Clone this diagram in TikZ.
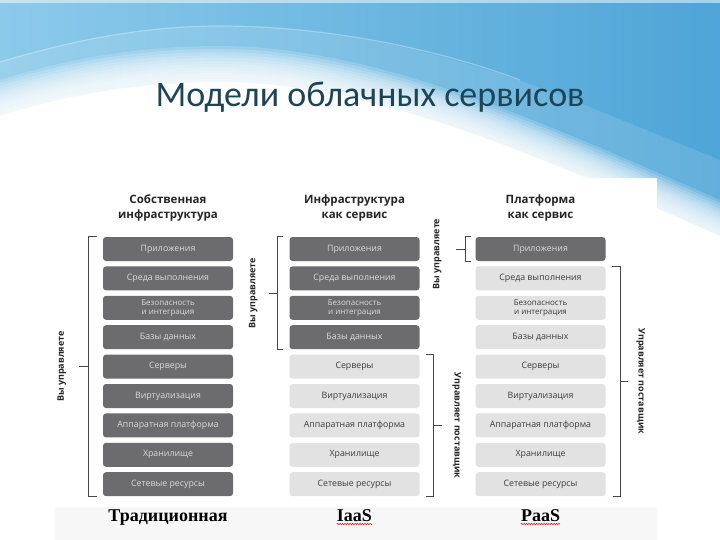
\documentclass[tikz,border=0pt]{standalone}
\usepackage{fontspec}
\setsansfont{Open Sans}
\newfontfamily\titlefont{Carlito}
\newfontfamily\capfont{Liberation Serif}
\usetikzlibrary{calc,positioning,decorations.pathmorphing}
\definecolor{boxdark}{RGB}{108,108,110}
\definecolor{boxlight}{RGB}{226,226,226}
\definecolor{textdark}{RGB}{60,60,60}
\definecolor{textlight}{RGB}{218,218,218}
\definecolor{titleblue}{RGB}{30,68,88}
\definecolor{skyleft}{RGB}{140,202,234}
\definecolor{skyright}{RGB}{78,165,215}
\definecolor{bracegray}{RGB}{70,70,70}
\tikzset{%
  % Specifications for style of nodes:
  base/.style = {rectangle, rounded corners=3pt,
    minimum width=130pt,
    minimum height=24pt, inner sep=0pt,
    align=center, font=\sffamily\fontsize{8.8}{9}\selectfont},
  youbox/.style = {base, fill=boxdark, text=textlight},
  vendorbox/.style = {base, fill=boxlight, text=textdark},
  twoline/.style = {font=\sffamily\fontsize{8}{9}\selectfont},
  head/.style = {align=center, text=black!85,
    font=\sffamily\bfseries\fontsize{11.5}{15}\selectfont},
  model/.style = {inner sep=1pt, font=\capfont\bfseries\fontsize{18}{18}\selectfont},
  sidelabel/.style = {text=black!85, font=\sffamily\bfseries\fontsize{9}{9}\selectfont},
  brace/.style = {draw=bracegray, line width=0.8pt},
  spell/.style = {draw=red, line width=0.5pt, decorate,
    decoration={snake, amplitude=0.7pt, segment length=2.5pt}},
}

\begin{document}
\begin{tikzpicture}[x=1pt, y=1pt, node distance=5pt]
        \useasboundingbox (0,0) rectangle (720,-540);
        % Background of the slide
        \fill[white] (0,0) rectangle (720,-540);
        \shade[left color=skyleft, right color=skyright] (0,0) rectangle (720,-280);
        \fill[white, opacity=.12] (0,-62) .. controls (80,-38) and (150,-26) .. (220,-26)
          .. controls (330,-26) and (440,-50) .. (560,-95) -- (720,-160) -- (720,-280) -- (0,-280) -- cycle;
        \draw[white, opacity=.3, line width=1.2pt] (0,-62) .. controls (80,-38) and (150,-26) .. (220,-26)
          .. controls (330,-26) and (440,-50) .. (520,-80);
        \foreach \k in {0,...,11}
          \fill[white, opacity=.17, yshift=-\k*3pt] (0,-80) .. controls (70,-58) and (140,-46) .. (220,-46)
            .. controls (380,-46) and (560,-130) .. (720,-200) -- (720,-560) -- (0,-560) -- cycle;
        \fill[white, yshift=-36pt] (0,-80) .. controls (70,-58) and (140,-46) .. (220,-46)
            .. controls (380,-46) and (560,-130) .. (720,-200) -- (720,-560) -- (0,-560) -- cycle;
        \fill[white, opacity=.5] (0,0) rectangle (720,-3);
        \node (title) at (370,-97) {\titlefont\fontsize{36}{36}\selectfont\color{titleblue}Модели облачных сервисов};
        % Picture panel
        \fill[white] (55,-178) rectangle (657,-540);
        \fill[black!3] (55,-507) rectangle (657,-540);
        % Traditional
        \node(t1)[youbox] at (168,-249){Приложения};
        \node(t2)[youbox,below=of t1]{Среда выполнения};
        \node(t3)[youbox,twoline,below=of t2]{Безопасность\\и интеграция};
        \node(t4)[youbox,below=of t3]{Базы данных};
        \node(t5)[youbox,below=of t4]{Серверы};
        \node(t6)[youbox,below=of t5]{Виртуализация};
        \node(t7)[youbox,below=of t6]{Аппаратная платформа};
        \node(t8)[youbox,below=of t7]{Хранилище};
        \node(t9)[youbox,below=of t8]{Сетевые ресурсы};
        % IaaS
        \node(i1)[youbox] at (354.5,-249){Приложения};
        \node(i2)[youbox,below=of i1]{Среда выполнения};
        \node(i3)[youbox,twoline,below=of i2]{Безопасность\\и интеграция};
        \node(i4)[youbox,below=of i3]{Базы данных};
        \node(i5)[vendorbox,below=of i4]{Серверы};
        \node(i6)[vendorbox,below=of i5]{Виртуализация};
        \node(i7)[vendorbox,below=of i6]{Аппаратная платформа};
        \node(i8)[vendorbox,below=of i7]{Хранилище};
        \node(i9)[vendorbox,below=of i8]{Сетевые ресурсы};
        % PaaS
        \node(p1)[youbox] at (540.5,-249){Приложения};
        \node(p2)[vendorbox,below=of p1]{Среда выполнения};
        \node(p3)[vendorbox,twoline,below=of p2]{Безопасность\\и интеграция};
        \node(p4)[vendorbox,below=of p3]{Базы данных};
        \node(p5)[vendorbox,below=of p4]{Серверы};
        \node(p6)[vendorbox,below=of p5]{Виртуализация};
        \node(p7)[vendorbox,below=of p6]{Аппаратная платформа};
        \node(p8)[vendorbox,below=of p7]{Хранилище};
        \node(p9)[vendorbox,below=of p8]{Сетевые ресурсы};
        % Headers and captions
        \node(thead)[head,above=12pt of t1]{Собственная \\ инфраструктура};
        \node(ihead)[head,above=12pt of i1]{Инфраструктура \\ как сервис};
        \node(phead)[head,above=12pt of p1]{Платформа \\ как сервис};
        \node(tcap)[model,below=12pt of t9]{Традиционная};
        \node(icap)[model,below=12pt of i9]{IaaS};
        \node(pcap)[model,below=12pt of p9]{PaaS};
        \draw[spell]([xshift=1pt,yshift=-2.5pt]icap.base west) -- ([xshift=-1pt,yshift=-2.5pt]icap.base east);
        \draw[spell]([xshift=1pt,yshift=-2.5pt]pcap.base west) -- ([xshift=-1pt,yshift=-2.5pt]pcap.base east);
        % Brackets
        \draw[brace]([xshift=-6pt]t1.north west) -| ([xshift=-14pt]t9.south west) -- ++(8,0);
        \coordinate(tm) at ($(t1.north west)!0.5!(t9.south west)+(-14,0)$);
        \draw[brace](tm) -- ++(-10,0);
        \node(tyou)[sidelabel,rotate=90] at ([xshift=-27pt]tm){Вы управляете};
        \draw[brace]([xshift=-6pt]i1.north west) -| ([xshift=-12pt]i4.south west) -- ++(6,0);
        \coordinate(im) at ($(i1.north west)!0.5!(i4.south west)+(-12,0)$);
        \draw[brace](im) -- ++(-8,0);
        \node(iyou)[sidelabel,rotate=90] at ([xshift=-24pt]im){Вы управляете};
        \draw[brace]([xshift=6pt]i5.north east) -| ([xshift=14pt]i9.south east) -- ++(-8,0);
        \coordinate(iv) at ($(i5.north east)!0.5!(i9.south east)+(14,0)$);
        \draw[brace](iv) -- ++(8,0);
        \node(ivendor)[sidelabel,rotate=-90] at ([xshift=23pt]iv){Управляет поставщик};
        \draw[brace]([xshift=-4pt]p1.north west) -| ([xshift=-10pt]p1.south west) -- ++(6,0);
        \coordinate(pm) at ($(p1.north west)!0.5!(p1.south west)+(-10,0)$);
        \draw[brace](pm) -- ++(-9,0);
        \node(pyou)[sidelabel,rotate=90] at ([xshift=-28pt,yshift=-5pt]pm){Вы управляете};
        \draw[brace]([xshift=6pt]p2.north east) -| ([xshift=15pt]p9.south east) -- ++(-8,0);
        \coordinate(pv) at ($(p2.north east)!0.5!(p9.south east)+(15,0)$);
        \draw[brace](pv) -- ++(7,0);
        \node(pvendor)[sidelabel,rotate=-90] at ([xshift=20pt]pv){Управляет поставщик};
    \end{tikzpicture}
\end{document}
